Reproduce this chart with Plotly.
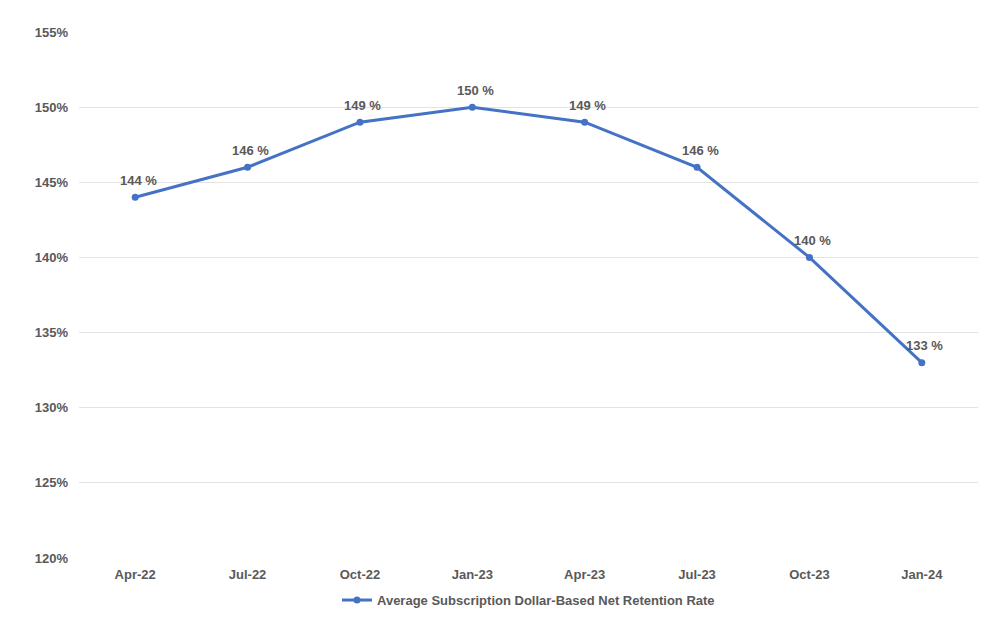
import plotly.graph_objects as go

# data
quarters = ["Apr-22", "Jul-22", "Oct-22", "Jan-23", "Apr-23", "Jul-23", "Oct-23", "Jan-24"]
retention = [144, 146, 149, 150, 149, 146, 140, 133]
y_ticks = [120, 125, 130, 135, 140, 145, 150, 155]
series_name = "Average Subscription Dollar-Based Net Retention Rate"

font_family = "Liberation Sans, Arial, sans-serif"
grey = "#595959"
blue = "#4472C4"

fig = go.Figure()
fig.add_trace(go.Scatter(
    x=quarters,
    y=retention,
    mode="lines+markers",
    name=f"<b>{series_name}</b>",
    line=dict(color=blue, width=3),
    marker=dict(color=blue, size=7),
    cliponaxis=False,
))

# value labels above each point
for q, v in zip(quarters, retention):
    fig.add_annotation(
        x=q, y=v, text=f"<b>{v} %</b>",
        showarrow=False, yshift=17, xshift=3,
        font=dict(family=font_family, size=13, color=grey),
    )

# page body adds an 8px offset, so margins are trimmed by 8 on the top/left
fig.update_layout(
    width=1000,
    height=631,
    paper_bgcolor="white",
    plot_bgcolor="white",
    margin=dict(l=71, r=30, t=24, b=81, autoexpand=False),
    font=dict(family=font_family, size=13, color=grey),
    showlegend=True,
    legend=dict(
        orientation="h",
        x=0.5, xanchor="center",
        y=-0.08, yanchor="middle",
        font=dict(family=font_family, size=13, color=grey),
        itemwidth=30,
    ),
    xaxis=dict(
        type="category",
        range=[-0.5, 7.5],
        showgrid=False,
        showline=False,
        zeroline=False,
        ticks="",
        automargin=False,
        ticklabelstandoff=7,
        tickfont=dict(family=font_family, size=13, color=grey, weight="bold"),
    ),
    yaxis=dict(
        range=[120, 155],
        tickvals=y_ticks,
        ticktext=[f"{v}%" for v in y_ticks],
        showgrid=True,
        gridcolor="#E3E3E3",
        gridwidth=1,
        zeroline=False,
        showline=False,
        ticks="",
        automargin=False,
        ticklabelstandoff=10,
        tickfont=dict(family=font_family, size=13, color=grey, weight="bold"),
    ),
)

fig.write_html("out.html")
